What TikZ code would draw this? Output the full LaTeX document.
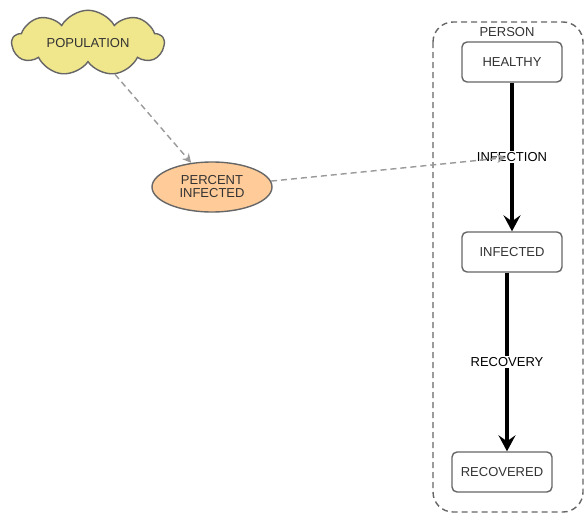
\documentclass[tikz,border=0pt]{standalone}
\usepackage{fontspec}
\setmainfont{Liberation Sans}
\usetikzlibrary{positioning, arrows.meta, shapes.geometric, shapes.symbols}
\definecolor{edgegray}{RGB}{102,102,102}
\definecolor{linkgray}{RGB}{153,153,153}
\definecolor{khaki}{RGB}{240,230,140}
\definecolor{peach}{RGB}{255,204,153}
\definecolor{textgray}{RGB}{51,51,51}

\begin{document}
\begin{tikzpicture}[
        x=1pt, y=-1pt,
        font=\fontsize{13}{14}\selectfont, text=textgray,
        state/.style={rectangle, draw=edgegray, fill=white, line width=1.4pt, minimum width=100pt, minimum height=40pt, align=center, rounded corners=5pt},
        group/.style={rectangle, draw=edgegray, line width=1.4pt, dash pattern=on 6pt off 4pt, rounded corners=20pt},
        flow/.style={-{Stealth[length=16pt, width=17pt, inset=6pt]}, line width=3.5pt, black},
        flowlabel/.style={fill=white, inner sep=1pt, text=black},
        link/.style={-{Stealth[length=9pt, width=9pt, inset=3pt]}, line width=1.4pt, linkgray, dash pattern=on 6pt off 4pt}
    ]
        \useasboundingbox (0,0) rectangle (584,514);

        % container
        \draw[group] (433,22) rectangle (583,512);
        \node (PERSONLBL) at (507,32) {PERSON};

        % states
        \node[state] (HEALTHY) at (512,62) {HEALTHY};
        \node[state] (INFECTED) at (512,252) {INFECTED};
        \node[state] (RECOVERED) at (502,472) {RECOVERED};

        % variables
        \node[cloud, cloud puffs=9, cloud puff arc=120, aspect=2.6, draw=edgegray, fill=khaki, line width=1.4pt, minimum width=152pt, minimum height=64pt, inner sep=0pt] (POP) at (88,43) {POPULATION};
        \node[ellipse, draw=edgegray, fill=peach, line width=1.4pt, minimum width=120pt, minimum height=50pt, inner sep=0pt, align=center, font=\fontsize{13}{13}\selectfont] (PCT) at (212,187) {PERCENT\\INFECTED};

        % transitions
        \draw[flow] (HEALTHY) -- node[flowlabel] (INFECTION) {INFECTION} (INFECTED);
        \draw[flow] ([xshift=-5pt]INFECTED.south) -- node[flowlabel] (RECOVERY) {RECOVERY} ([xshift=5pt]RECOVERED.north);

        % links
        \draw[link] (POP) -- (PCT);
        \draw[link, shorten >=6pt] (PCT) -- (INFECTION.center);
    \end{tikzpicture}
\end{document}
